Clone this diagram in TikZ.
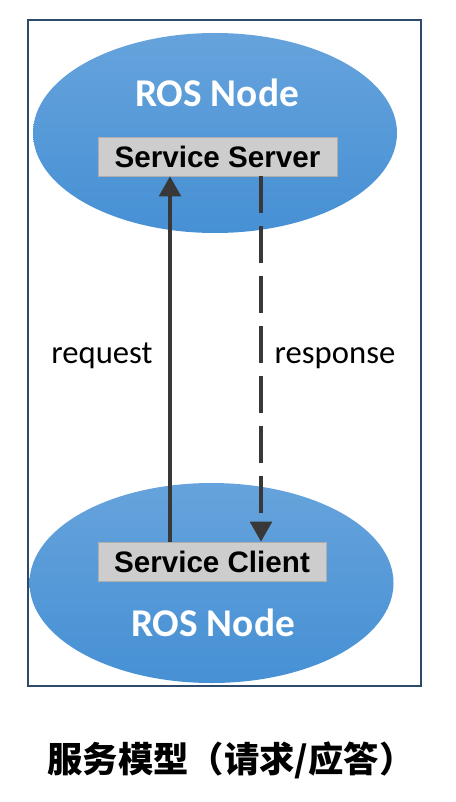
\documentclass[tikz,border=0pt]{standalone}
\usepackage{fontspec}
\setmainfont{Carlito}
\newfontfamily\arialfont{Liberation Sans}
\newfontfamily\cjk{Noto Sans CJK SC}
\usetikzlibrary{shapes.geometric,arrows.meta}
\newcommand\pxl{0.75pt}
\definecolor{nodetop}{HTML}{66A3DC}
\definecolor{nodebot}{HTML}{4690D4}
\definecolor{boxgray}{HTML}{CDCDCD}
\definecolor{framec}{HTML}{2E4A6B}
\definecolor{arrowc}{HTML}{383838}

\begin{document}
\begin{tikzpicture}[
      x=\pxl, y=-\pxl,
      rosnode/.style = {
        ellipse,
        shade,
        top color=nodetop,
        bottom color=nodebot,
        minimum width=364*\pxl,
        minimum height=200*\pxl,
      },
      rostitle/.style = {
        text=white,
        font=\fontsize{29.5}{30}\selectfont\bfseries,
        anchor=base,
      },
      srvbox/.style = {
        fill=boxgray,
        draw=boxgray!85!black,
        line width=0.4pt,
        minimum height=39*\pxl,
        inner sep=0pt,
        font=\arialfont\fontsize{22.2}{23}\selectfont\bfseries,
      },
      lbl/.style = {
        font=\fontsize{24.5}{25}\selectfont,
        anchor=base,
      },
      arr/.style = {
        draw=arrowc,
        line width=3pt,
        -{Triangle[length=15pt,width=16pt]},
      },
    ]
      \useasboundingbox (0,0) rectangle (456,802);

      \node[rosnode] (top) at (215,133) {};
      \node[rosnode] (bot) at (211.5,583) {};
      \node[rostitle] (toptitle) at (217,107) {ROS Node};
      \node[rostitle] (bottitle) at (213,636) {ROS Node};

      \node[srvbox, minimum width=239*\pxl] (server) at (217.5,156.5) {Service Server};
      \node[srvbox, minimum width=228*\pxl] (client) at (212,561.5) {Service Client};

      \coordinate (reqx) at (170,0);
      \coordinate (resx) at (261,0);
      \draw[arr] (client.north -| reqx) -- (server.south -| reqx);
      \draw[arr, dash pattern=on 27.5pt off 10pt] (server.south -| resx) -- (client.north -| resx);

      \node[lbl] (req) at (102,363) {request};
      \node[lbl] (res) at (335,363) {response};

      \draw[framec, line width=1.1pt] (28,20) rectangle (421,686);

      \node[font=\cjk\fontsize{26.5}{28}\selectfont\bfseries] (caption) at (231,760) {服务模型（请求/应答）};
    \end{tikzpicture}
\end{document}
